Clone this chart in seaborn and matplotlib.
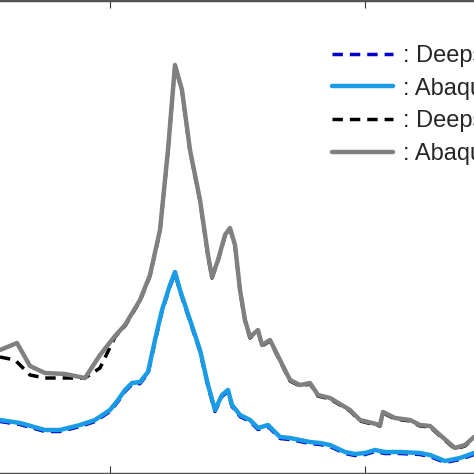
import numpy as np
import seaborn as sns
import matplotlib.pyplot as plt

sns.set_style("white")
plt.rcParams['font.family'] = ['Liberation Sans', 'DejaVu Sans']

x_gray = [0, 17, 30, 45, 65, 85, 100, 115, 125, 140, 150, 160, 168, 175, 182, 190, 200, 208, 212,
          218, 225, 230, 235, 240, 245, 250, 258, 262, 270, 280, 290, 300, 310, 318, 330, 350, 360,
          380, 383, 395, 410, 420, 430, 440, 455, 465, 474]
y_gray = [350, 343, 366, 373, 374, 378, 355, 336, 325, 300, 275, 230, 150, 65, 90, 150, 200,
          255, 277, 260, 235, 228, 245, 290, 320, 337, 330, 345, 340, 360, 380, 385, 383, 395, 398,
          410, 420, 425, 412, 418, 420, 425, 426, 435, 448, 445, 437]
x_gray = x_gray[:len(y_gray)]

x_black = [0, 15, 30, 45, 60, 85, 100] + x_gray[7:]
y_black = [357, 360, 375, 378, 378, 378, 368] + [y + 1 for y in y_gray[7:]]

x_blue = [0, 20, 45, 60, 80, 95, 110, 118, 125, 132, 140, 148, 155, 162, 170, 175, 180, 190, 200,
          208, 215, 222, 228, 232, 240, 250, 258, 268, 280, 290, 300, 310, 320, 330, 345, 355, 365,
          375, 385, 400, 420, 430, 445, 460, 474]
y_blue = [420, 423, 430, 430, 425, 420, 410, 400, 390, 383, 382, 372, 340, 310, 285, 272, 290, 320,
          350, 385, 410, 395, 390, 405, 415, 420, 428, 425, 437, 438, 440, 442, 443, 445, 452, 454,
          453, 450, 452, 452, 453, 455, 461, 458, 453]
y_dblue = [y + 1.5 for y in y_blue]

labels = [': Deepsolver (1)', ': Abaqus (1)', ': Deepsolver (2)', ': Abaqus (2)']

fig = plt.figure(figsize=(4.74, 4.74), dpi=100)
ax = fig.add_axes([0, 0, 1, 1])

sns.lineplot(x=x_blue, y=474 - np.array(y_dblue), ax=ax, color='#0000cc', lw=2.5,
             linestyle=(0, (3, 2)), label=labels[0], zorder=2)
sns.lineplot(x=x_blue, y=474 - np.array(y_blue), ax=ax, color='#1a9be6', lw=3.2,
             label=labels[1], zorder=3)
sns.lineplot(x=x_black, y=474 - np.array(y_black), ax=ax, color='black', lw=2.5,
             linestyle=(0, (3, 2)), label=labels[2], zorder=2)
sns.lineplot(x=x_gray, y=474 - np.array(y_gray), ax=ax, color='#808080', lw=3.2,
             label=labels[3], zorder=3)

ax.set_xlim(0, 474)
ax.set_ylim(0, 474)
ax.set_xticks([110, 365])
ax.set_yticks([])
ax.set_xticklabels([])
ax.tick_params(axis='x', direction='in', top=True, bottom=True, length=6, color='#333333')
for s in ['left', 'right']:
    ax.spines[s].set_visible(False)
for s in ['top', 'bottom']:
    ax.spines[s].set_color('#555555')
    ax.spines[s].set_linewidth(2.5)

ax.legend(loc='upper left', bbox_to_anchor=(0.655, 0.95), frameon=False, fontsize=17,
          handlelength=2.6, labelspacing=0.45, handletextpad=0.4)

fig.savefig('out.png', dpi=100)
